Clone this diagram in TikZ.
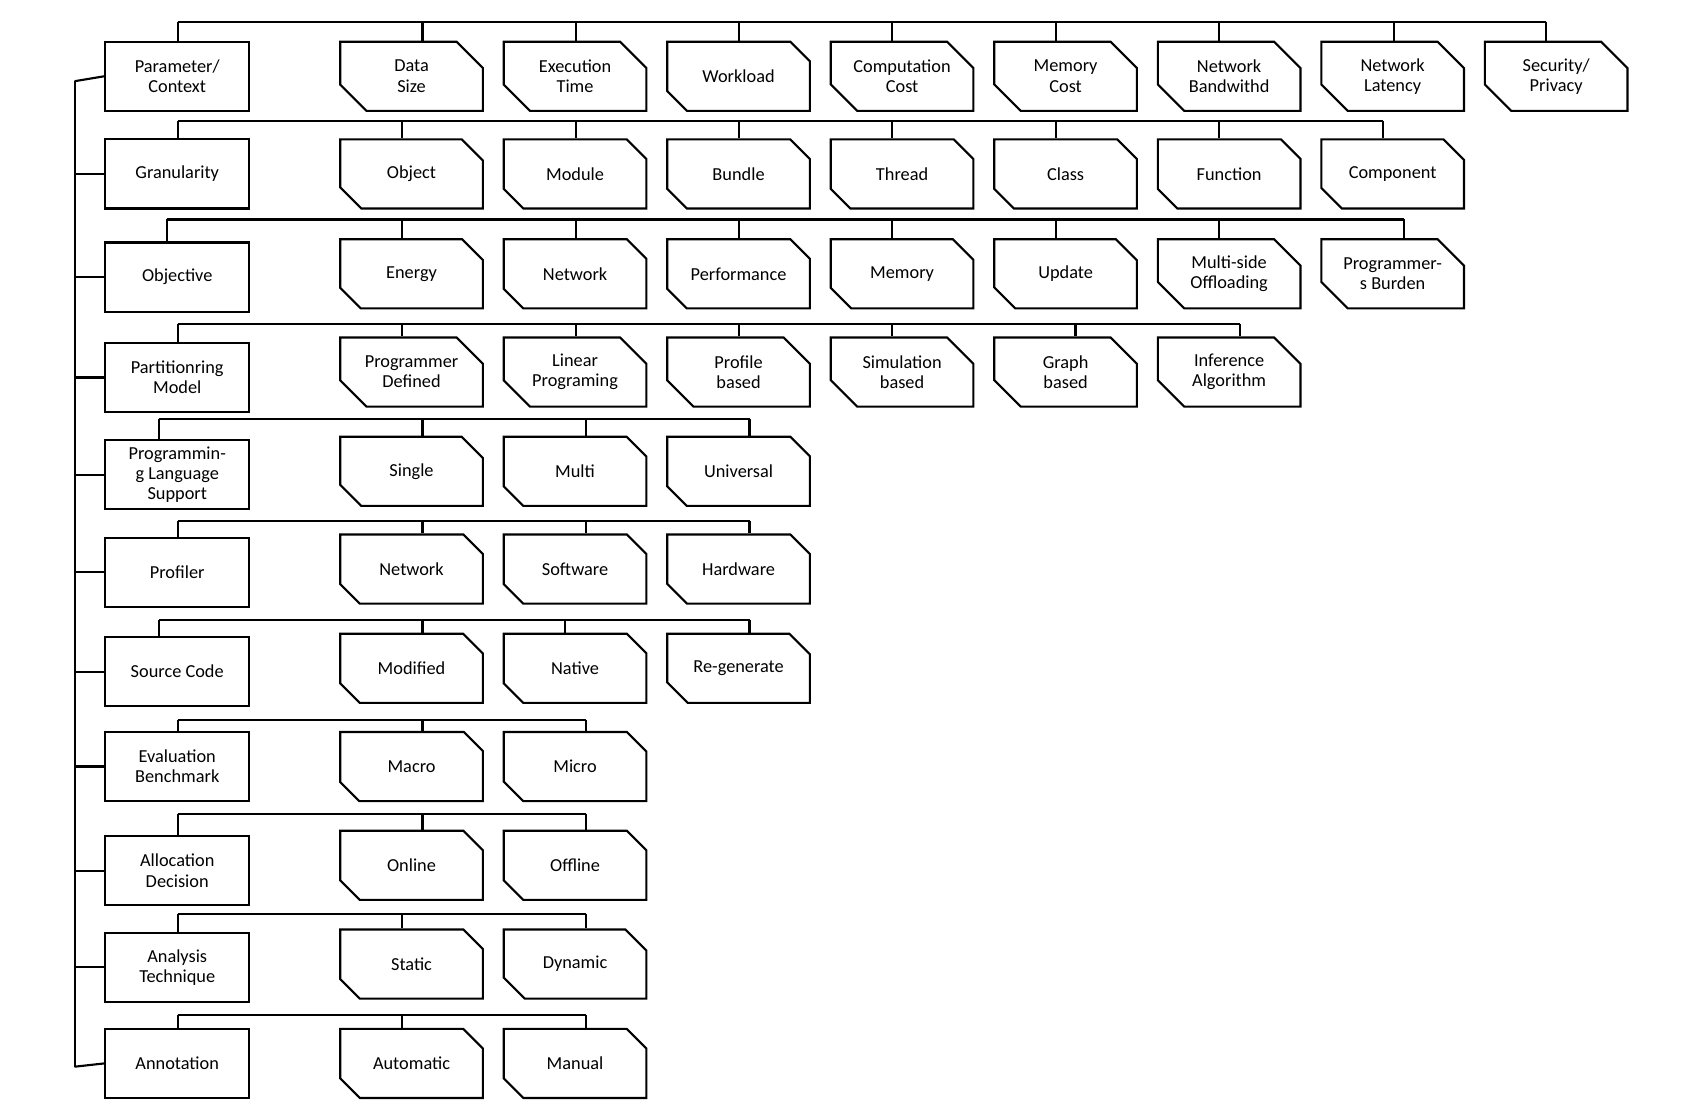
\documentclass[tikz,border=0pt]{standalone}
\usepackage{fontspec}
\setmainfont{Carlito}
\usetikzlibrary{shapes.misc}
\begin{document}
\begin{tikzpicture}[x=0.02cm,y=-0.02cm,line width=1.1pt,
  par/.style={draw,rectangle,minimum width=2.62cm,minimum height=1.26cm,inner sep=0pt,align=center,font=\fontsize{9.5}{10.5}\selectfont},
  ch/.style={draw,chamfered rectangle,chamfered rectangle corners={north east,south west},chamfered rectangle xsep=0.24cm,chamfered rectangle ysep=0.24cm,minimum width=2.6cm,minimum height=1.26cm,inner sep=0pt,align=center,font=\fontsize{9.5}{10.5}\selectfont}]
\useasboundingbox (0,0) rectangle (1550,1007);
% left column nodes
\node[par] (p1) at (161.5,69.5) {Parameter/\\Context};
\node[par] (p2) at (161.5,158.5) {Granularity};
\node[par] (p3) at (161.5,252.5) {Objective};
\node[par] (p4) at (161.5,344) {Partitionring\\Model};
\node[par] (p5) at (161.5,432.5) {\fontsize{9.5}{9}\selectfont Programmin-\\g Language\\Support};
\node[par] (p6) at (161.5,521.5) {Profiler};
\node[par] (p7) at (161.5,612) {Source Code};
\node[par] (p8) at (161.5,698.5) {Evaluation\\Benchmark};
\node[par] (p9) at (161.5,793.5) {Allocation\\Decision};
\node[par] (p10) at (161.5,881.5) {Analysis\\Technique};
\node[par] (p11) at (161.5,969) {Annotation};
% children
\foreach \lab [count=\i] in {{Data\\Size},{Execution\\Time},Workload,{Computation\\Cost},{Memory\\Cost},{Network\\Bandwithd},{Network\\Latency},{Security/\\Privacy}}
  \node[ch] (c1-\i) at ({375+149*(\i-1)},69.5) {\lab};
\foreach \lab [count=\i] in {Object,Module,Bundle,Thread,Class,Function,Component}
  \node[ch] (c2-\i) at ({375+149*(\i-1)},158.5) {\lab};
\foreach \lab [count=\i] in {Energy,Network,Performance,Memory,Update,{Multi-side\\Offloading},{Programmer-\\s Burden}}
  \node[ch] (c3-\i) at ({375+149*(\i-1)},249.5) {\lab};
\foreach \lab [count=\i] in {{Programmer\\Defined},{Linear\\Programing},{Profile\\based},{Simulation\\based},{Graph\\based},{Inference\\Algorithm}}
  \node[ch] (c4-\i) at ({375+149*(\i-1)},339) {\lab};
\foreach \lab [count=\i] in {Single,Multi,Universal}
  \node[ch] (c5-\i) at ({375+149*(\i-1)},429.5) {\lab};
\foreach \lab [count=\i] in {Network,Software,Hardware}
  \node[ch] (c6-\i) at ({375+149*(\i-1)},518.5) {\lab};
\foreach \lab [count=\i] in {Modified,Native,Re-generate}
  \node[ch] (c7-\i) at ({375+149*(\i-1)},609) {\lab};
\foreach \lab [count=\i] in {Macro,Micro}
  \node[ch] (c8-\i) at ({375+149*(\i-1)},698.5) {\lab};
\foreach \lab [count=\i] in {Online,Offline}
  \node[ch] (c9-\i) at ({375+149*(\i-1)},788.5) {\lab};
\foreach \lab [count=\i] in {Static,Dynamic}
  \node[ch] (c10-\i) at ({375+149*(\i-1)},878.5) {\lab};
\foreach \lab [count=\i] in {Automatic,Manual}
  \node[ch] (c11-\i) at ({375+149*(\i-1)},969) {\lab};
% buses
\foreach \by/\drops in {
  20/{162/p1,385/c1-1,525/c1-2,673/c1-3,813/c1-4,962/c1-5,1111/c1-6,1270/c1-7,1409/c1-8},
  110/{162/p2,366/c2-1,525/c2-2,673/c2-3,813/c2-4,962/c2-5,1111/c2-6,1260/c2-7},
  200/{152/p3,366/c3-1,525/c3-2,673/c3-3,813/c3-4,962/c3-5,1111/c3-6,1279/c3-7},
  295/{162/p4,366/c4-1,525/c4-2,673/c4-3,813/c4-4,980/c4-5,1130/c4-6},
  382/{145/p5,385/c5-1,534/c5-2,683/c5-3},
  475/{162/p6,385/c6-1,534/c6-2,683/c6-3},
  565/{145/p7,385/c7-1,515/c7-2,683/c7-3},
  656/{162/p8,385/c8-1,534/c8-2},
  742/{162/p9,385/c9-1,534/c9-2},
  833/{162/p10,366/c10-1,534/c10-2},
  925/{162/p11,366/c11-1,534/c11-2}}{
  \foreach \x/\n [count=\k] in \drops {
    \draw (\x,\by) -- ({\x},0 |- \n.north);
    \ifnum\k=1 \xdef\firstx{\x}\fi
    \xdef\lastx{\x}
  }
  \draw (\firstx,\by) -- (\lastx,\by);
}
% trunk
\coordinate (t0) at (68,74);
\coordinate (t1) at (68,972);
\draw (t0) -- (t1);
\draw (t0) -- (p1.west);
\draw (t1) -- (p11.west);
\foreach \r in {2,...,10} \draw (t0 |- p\r.west) -- (p\r.west);
\end{tikzpicture}
\end{document}
